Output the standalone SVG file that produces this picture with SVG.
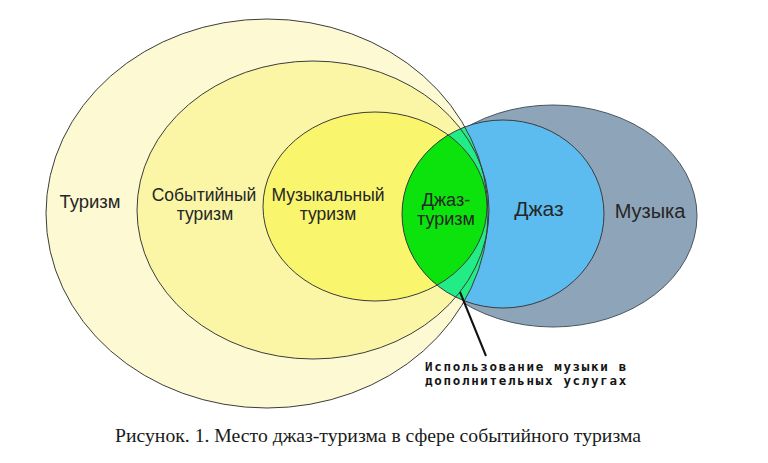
<svg xmlns="http://www.w3.org/2000/svg" xmlns:xlink="http://www.w3.org/1999/xlink" width="768" height="463" viewBox="0 0 768 463">
  <style>
    .lbl { font-family: "Liberation Sans", Arial, sans-serif; text-anchor: middle; fill: #262626; }
    .edge { fill: none; stroke: #3c3c3c; stroke-width: 1; }
    .note { font-family: "DejaVu Sans Mono", "Liberation Mono", monospace; font-size: 12.5px; font-weight: bold; letter-spacing: 1.7px; fill: #141414; }
    .cap { font-family: "Liberation Serif", "Times New Roman", serif; font-size: 19.7px; fill: #1a1a1a; text-anchor: middle; }
  </style>
  <defs>
    <ellipse id="e-music" cx="553" cy="216" rx="144" ry="111"/>
    <ellipse id="e-tour" cx="267" cy="213.5" rx="221" ry="194.5"/>
    <ellipse id="e-event" cx="313" cy="210" rx="176" ry="149"/>
    <ellipse id="e-mtour" cx="375" cy="206.5" rx="112" ry="94.5"/>
    <ellipse id="e-jazz" cx="503" cy="214" rx="101" ry="94"/>
    <clipPath id="clip-yellow">
      <use xlink:href="#e-tour"/>
      <use xlink:href="#e-event"/>
    </clipPath>
    <clipPath id="clip-mtour">
      <use xlink:href="#e-mtour"/>
    </clipPath>
  </defs>
  <rect width="768" height="463" fill="#ffffff"/>

  <g id="music">
    <use xlink:href="#e-music" fill="#8ea4b8" stroke="#4a5560" stroke-width="1"/>
    <text class="lbl" x="650" y="218" font-size="20" fill="#212a33">Музыка</text>
  </g>

  <g id="tourism">
    <use xlink:href="#e-tour" fill="#fdfad3"/>
    <text class="lbl" x="90" y="208" font-size="18.5">Туризм</text>
  </g>

  <g id="event-tourism">
    <use xlink:href="#e-event" fill="#faf6a6"/>
    <text class="lbl" x="204" y="201" font-size="17.5">Событийный</text>
    <text class="lbl" x="205" y="220" font-size="17.5">туризм</text>
  </g>

  <g id="music-tourism">
    <use xlink:href="#e-mtour" fill="#f9f56c"/>
    <text class="lbl" x="328" y="201" font-size="17.5">Музыкальный</text>
    <text class="lbl" x="328" y="220" font-size="17.5">туризм</text>
  </g>

  <g id="jazz">
    <use xlink:href="#e-jazz" fill="#5cbcf0"/>
    <text class="lbl" x="539" y="216" font-size="21" fill="#27476a">Джаз</text>
  </g>

  <g id="jazz-tourism">
    <g clip-path="url(#clip-yellow)">
      <use xlink:href="#e-jazz" fill="#22ec86"/>
    </g>
    <g clip-path="url(#clip-mtour)">
      <use xlink:href="#e-jazz" fill="#0ce20c"/>
    </g>
    <g id="outlines">
      <use xlink:href="#e-tour" class="edge"/>
      <use xlink:href="#e-event" class="edge"/>
      <use xlink:href="#e-mtour" class="edge"/>
      <use xlink:href="#e-jazz" class="edge" stroke="#2a4a6a"/>
    </g>
    <text class="lbl" x="446" y="206" font-size="18" fill="#1f4a22">Джаз-</text>
    <text class="lbl" x="446" y="225" font-size="18" fill="#1f4a22">туризм</text>
  </g>

  <g id="connectors">
    <line x1="460" y1="292" x2="486" y2="356" stroke="#111111" stroke-width="2"/>
  </g>

  <g id="annotation">
    <text class="note" x="425" y="371">Использование музыки в</text>
    <text class="note" x="425" y="385">дополнительных услугах</text>
  </g>

  <text class="cap" x="378" y="442">Рисунок. 1. Место джаз-туризма в сфере событийного туризма</text>
</svg>
